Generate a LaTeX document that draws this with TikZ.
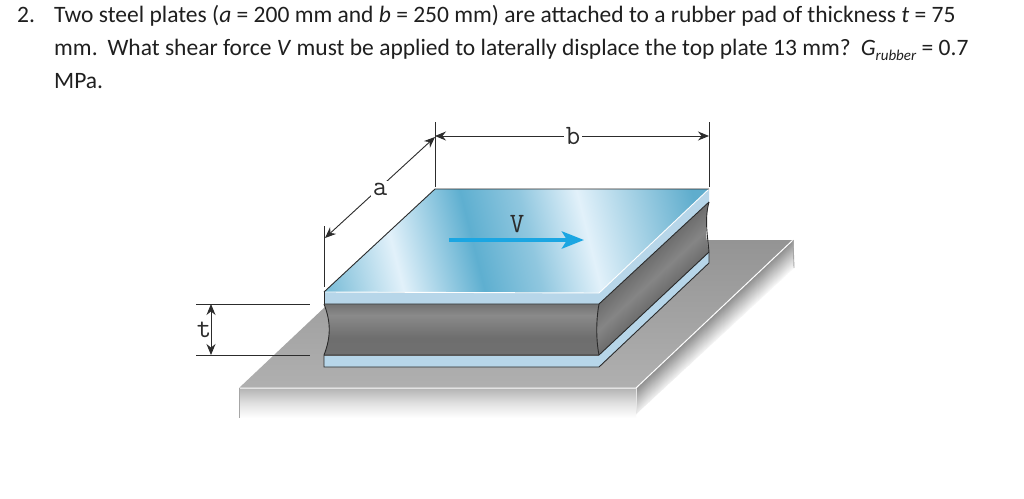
\documentclass[tikz,border=0pt]{standalone}
\usepackage{fontspec}
\setmainfont{Carlito}
\setmonofont{Latin Modern Mono}
\usetikzlibrary{arrows.meta}
\definecolor{tsA}{HTML}{7FBFD9}\definecolor{tsL}{HTML}{E2F1FA}\definecolor{tsB}{HTML}{5EAFD0}
\definecolor{tsM}{HTML}{90C7DF}\definecolor{tsC}{HTML}{5FADCD}
\definecolor{rA}{HTML}{727272}\definecolor{rB}{HTML}{8A8A8A}\definecolor{rC}{HTML}{6E6E6E}\definecolor{rD}{HTML}{707070}
\definecolor{sA}{HTML}{6E6E6E}\definecolor{sB}{HTML}{858585}\definecolor{sC}{HTML}{6C6C6C}
\pgfdeclarehorizontalshading{topsteel}{100bp}{
 color(0bp)=(tsA); color(27bp)=(tsA); color(34.9bp)=(tsL); color(43.7bp)=(tsB);
 color(50bp)=(tsM); color(56.4bp)=(tsL); color(68.9bp)=(tsC); color(100bp)=(tsC)}
\pgfdeclareverticalshading{rubberv}{100bp}{
 color(0bp)=(rD); color(25bp)=(rD); color(42bp)=(rC); color(64bp)=(rB); color(75bp)=(rA); color(100bp)=(rA)}
\pgfdeclareverticalshading{rubbers}{100bp}{
 color(0bp)=(sC); color(25bp)=(sC); color(50bp)=(sB); color(75bp)=(sA); color(100bp)=(sA)}
\definecolor{plateband}{HTML}{B7D6E9}
\definecolor{dimc}{HTML}{2C2C2C}
\definecolor{outl}{HTML}{2A2A2A}
\definecolor{arrowc}{HTML}{1BA6E2}
\tikzset{
 prob/.style={anchor=base west,inner sep=0pt,font=\fontsize{23.5}{26}\selectfont,text=black!88},
 dimline/.style={draw=dimc,line width=0.9pt},
 dimarrow/.style={dimline,{Stealth[length=11pt,width=9pt]}-{Stealth[length=11pt,width=9pt]}},
 dimlabel/.style={font=\ttfamily\fontsize{28}{28}\selectfont,text=dimc,inner sep=2pt},
 edge/.style={draw=outl,line width=0.9pt},
 force/.style={draw=arrowc,line width=4.5pt,-{Stealth[length=22pt,width=17pt,inset=5pt]}}
}
\begin{document}
\begin{tikzpicture}[x=1pt,y=-1pt]
\useasboundingbox[fill=white] (0,0) rectangle (1024,498);
% text
\node[prob] (num) at (17,22) {2.};
\node[prob] (l1) at (54,22) {Two steel plates (\textit{a} = 200 mm and \textit{b} = 250 mm) are attached to a rubber pad of thickness \textit{t} = 75};
\node[prob] (l2) at (54,55) {mm.\hspace{0.12em} What shear force \textit{V} must be applied to laterally displace the top plate 13 mm?\hspace{0.12em} \textit{G}\raisebox{-0.25em}{\fontsize{15}{16}\selectfont\textit{rubber}} = 0.7};
\node[prob] (l3) at (54,88) {MPa.};
% coordinates
\coordinate (TBL) at (435,189); \coordinate (TBR) at (709,189);
\coordinate (TFL) at (324,292); \coordinate (TFR) at (599,293);
\coordinate (RFLt) at (324,304); \coordinate (RFRt) at (599,304); \coordinate (RBRt) at (709,202);
\coordinate (RFLb) at (324,355); \coordinate (RFRb) at (599,355); \coordinate (RBRb) at (709,252);
\coordinate (BFL) at (324,367); \coordinate (BFR) at (599,367); \coordinate (BBR) at (709,263);
\coordinate (GFL) at (239,388); \coordinate (GFR) at (636,388); \coordinate (GBR) at (793,240);
\coordinate (GBL) at (396,240);
% base: front face
\shade[top color=black!30,bottom color=white,middle color=black!12] (GFL) rectangle (636,418);
% base: top
\shade[top color=black!42,bottom color=black!31] (GFL) -- (GFR) -- (GBR) -- (GBL) -- cycle;
% base: side shadow, as strips that pale with distance from the edge
\begin{scope}
\clip (GFR) -- (GBR) -- (794,268) -- (636,414) -- cycle;
\foreach \i in {30,29,...,0}{
  \pgfmathsetmacro{\shadeval}{44*(1-\i/30)}
  \fill[black!\shadeval] (636,388) -- (793,240) -- (793,240+\i+1) -- (636,388+\i+1) -- cycle;
}
\end{scope}
\draw[white,line width=1pt] (GFL) -- (GFR) -- (GBR);
\draw[black!35,line width=0.9pt] (GFL) -- (239,418);
\draw[black!10,line width=0.9pt] (GFR) -- (636,413);
\draw[black!35,line width=0.9pt] (GBR) -- (794,268);
% bottom plate
\fill[plateband] (RFLb) -- (RFRb) -- (RBRb) -- (BBR) -- (BFR) -- (BFL) -- cycle;
% rubber front
\begin{scope}
\clip (RFLt) .. controls (331,322) and (331,337) .. (RFLb) -- (RFRb) .. controls (596,340) and (596,320) .. (RFRt) -- cycle;
\shade[shading=rubberv] (320,304) rectangle (602,355);
\end{scope}
% rubber side
\begin{scope}
\clip (RFRt) .. controls (596,320) and (596,340) .. (RFRb) -- (RBRb) .. controls (705,238) and (705,220) .. (RBRt) -- cycle;
\shade[transform canvas={shift={(0,555.3)},yslant=0.927},shading=rubbers] (595,304) rectangle (712,355);
\end{scope}
% top plate bands
\fill[plateband] (TFL) -- (TFR) -- (RFRt) -- (RFLt) -- cycle;
\fill[plateband] (TFR) -- (TBR) -- (RBRt) -- (RFRt) -- cycle;
% top surface
\begin{scope}
\clip (TBL) -- (TBR) -- (TFR) -- (TFL) -- cycle;
\shade[transform canvas={shift={(-60,0)},xslant=-0.25},shading=topsteel] (300,185) rectangle (760,296);
\end{scope}
\draw[white,line width=0.9pt] (TFL) -- (TFR) -- (TBR);
% outlines
\draw[edge] (TFL) -- (TBL) -- (TBR);
\draw[edge] (TFL) -- (RFLt);
\draw[edge] (RFLt) -- (RFRt) -- (RBRt);
\draw[edge,line width=1.5pt,draw=black!65] (RFLb) -- (RFRb);
\draw[edge] (RFRb) -- (RBRb);
\draw[edge] (RFLb) -- (BFL) -- (BFR) -- (BBR) -- (RBRb);
\draw[edge] (RFLt) .. controls (331,322) and (331,337) .. (RFLb);
\draw[edge] (RFRt) .. controls (596,320) and (596,340) .. (RFRb);
\draw[edge] (RBRt) .. controls (704,220) and (708,238) .. (RBRb);
% force
\coordinate (Vs) at (449,240); \coordinate (Ve) at (584,240);
\draw[force] (Vs) -- (Ve);
\node[dimlabel] (Vl) at (517,224) {V};
% dimension a
\coordinate (aFt) at (324,226); \coordinate (aFb) at (324,287);
\coordinate (aBt) at (435,122); \coordinate (aBb) at (435,187);
\coordinate (aS) at (325,238); \coordinate (aE) at (435,137);
\draw[dimline] (aFt) -- (aFb);
\draw[dimline] (aBt) -- (aBb);
\draw[dimarrow] (aS) -- (aE);
\node[dimlabel,fill=white] (al) at (380,189) {a};
% dimension b
\coordinate (bS) at (435,136); \coordinate (bE) at (709,136);
\coordinate (bRt) at (709,122); \coordinate (bRb) at (709,187);
\draw[dimline] (bRt) -- (bRb);
\draw[dimarrow] (bS) -- (bE);
\node[dimlabel,fill=white] (bl) at (573,136) {b};
% dimension t
\coordinate (tT1) at (196,304); \coordinate (tT2) at (310,304);
\coordinate (tB1) at (196,355); \coordinate (tB2) at (310,355);
\draw[dimline] (tT1) -- (tT2);
\draw[dimline] (tB1) -- (tB2);
\coordinate (tS) at (211,304); \coordinate (tE) at (211,355);
\node[dimlabel] (tl) at (204,330) {t};
\draw[dimarrow] (tS) -- (tE);
\end{tikzpicture}
\end{document}
